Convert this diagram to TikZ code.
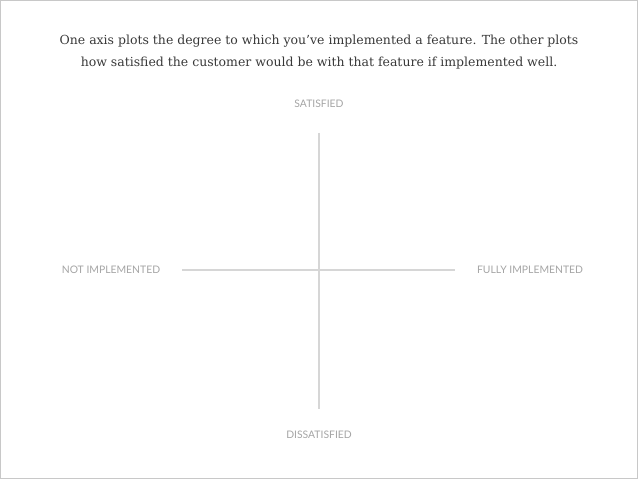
\documentclass[tikz,border=0pt]{standalone}
\usepackage{fontspec}
\setmainfont{DejaVu Serif}
\newfontfamily\labelfont{Lato}
\definecolor{titlegray}{HTML}{383838}
\definecolor{labelgray}{HTML}{A4A4A4}
\definecolor{axisgray}{HTML}{D6D6D6}
\definecolor{framegray}{HTML}{C8C8C8}
\tikzset{
  axislabel/.style={font=\labelfont\fontsize{5.9}{7}\selectfont, text=labelgray, inner sep=0pt, outer xsep=0.44cm, outer ysep=0.5cm},
  axisline/.style={draw=axisgray, line width=0.65pt}
}
\begin{document}
\begin{tikzpicture}[x=0.02cm, y=-0.02cm]

      \draw[framegray, line width=0.5pt] (0.5,0.5) rectangle (637.5,478.5);

      \node[text=titlegray, align=center, font=\fontsize{7.1}{12.5}\selectfont] (title) at (319,52.5)
        {One axis plots the degree to which you’ve implemented a feature. The other plots\\
         how satisfied the customer would be with that feature if implemented well.};

      \begin{scope}[every node/.style={axislabel}]
        \node (sat)  at (319,104) {SATISFIED};
        \node (dis)  at (319,435) {DISSATISFIED};
        \node (notimpl)  at (111,270) {NOT IMPLEMENTED};
        \node (fullimpl) at (530,270) {FULLY IMPLEMENTED};
      \end{scope}

      \draw[axisline] (sat) -- ([yshift=-0.06cm]dis.north);
      \draw[axisline] (notimpl) -- (fullimpl);

    \end{tikzpicture}
\end{document}
